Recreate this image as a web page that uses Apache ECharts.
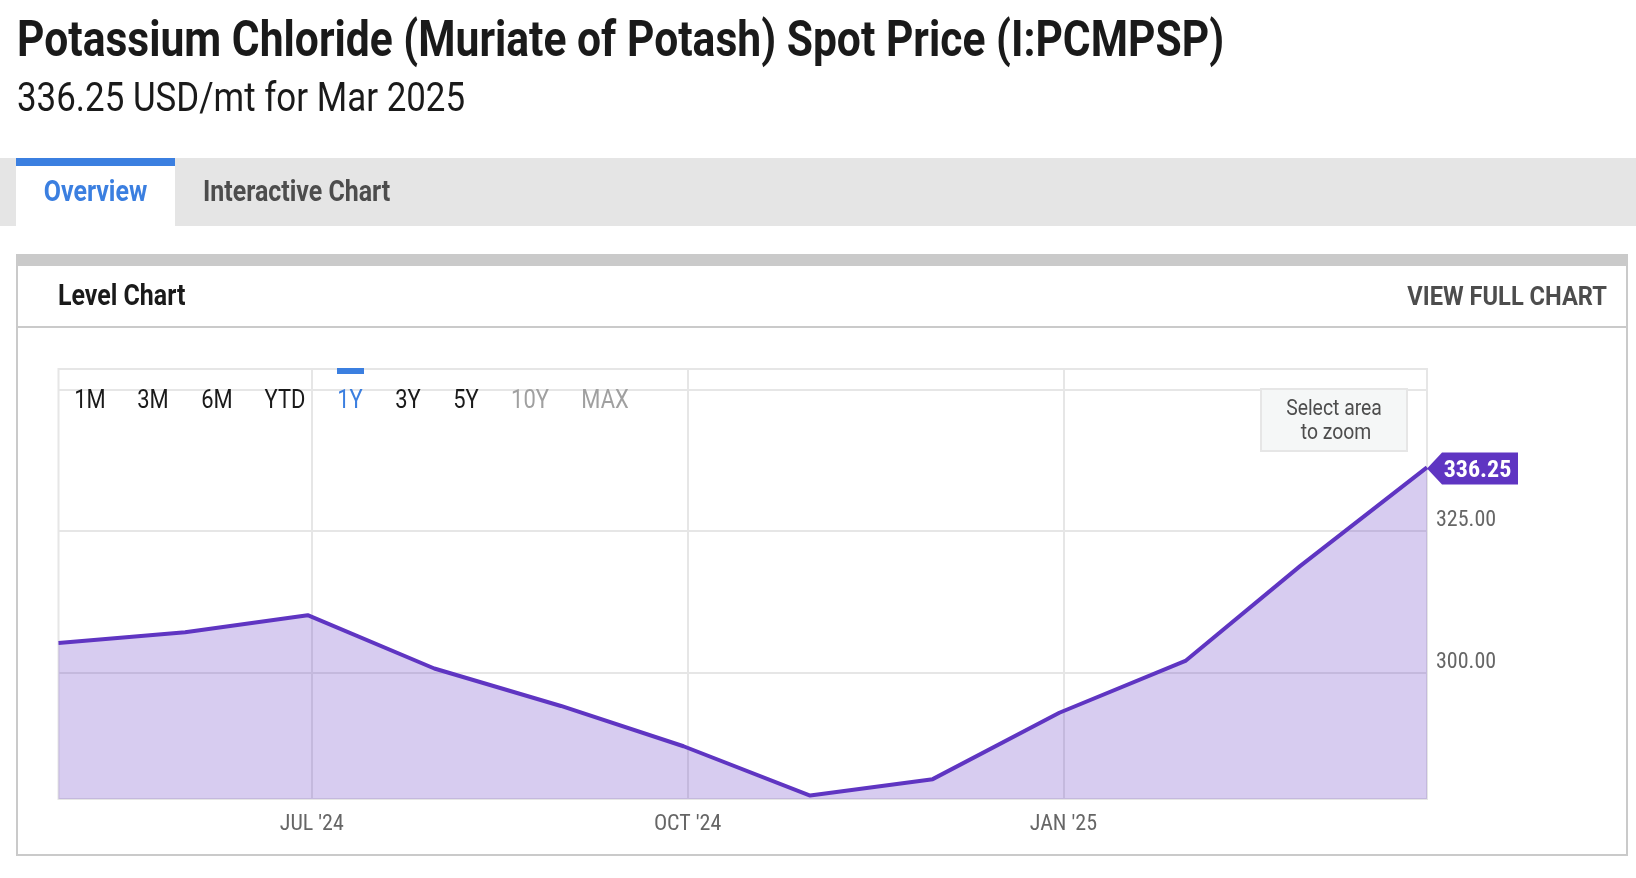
<!DOCTYPE html>
<html>
<head>
<meta charset="utf-8">
<title>Potassium Chloride (Muriate of Potash) Spot Price</title>
<style>
  html, body { margin: 0; padding: 0; background: #fff; }
  #main { width: 1636px; height: 878px; }
</style>
<script src="https://cdn.jsdelivr.net/npm/echarts@6/dist/echarts.min.js"></script>
</head>
<body>
<div id="main"></div>
<script>
// month end dates and level
var dates = ['2024-04-30', '2024-05-31', '2024-06-30', '2024-07-31', '2024-08-31', '2024-09-30',
  '2024-10-31', '2024-11-30', '2024-12-31', '2025-01-31', '2025-02-28', '2025-03-31'];
var values = [305.3, 307.2, 310.2, 300.8, 294.2, 287.1, 278.4, 281.3, 293.0, 302.2, 318.9, 336.25];

var xTickDates = ['2024-07-01', '2024-10-01', '2025-01-01'];
var xTickLabels = ["JUL '24", "OCT '24", "JAN '25"];
var yGridValues = [300, 325, 350];
var yLabelValues = [300, 325];

var rangeLabels = ['1M', '3M', '6M', 'YTD', '1Y', '3Y', '5Y', '10Y', 'MAX'];
var rangeCenters = [90, 153, 217, 285, 350, 408, 466, 530, 605];
var rangeColors = ['#1a1a1a', '#1a1a1a', '#1a1a1a', '#1a1a1a', '#3b7fe0', '#1a1a1a', '#1a1a1a', '#a0a0a0', '#a0a0a0'];

var PURPLE = '#5f35c2';
var FONT = 'Roboto';
var NARROW = '"Roboto Condensed", "Liberation Sans Narrow", Roboto';

function ts(d) { return Date.parse(d); }
var xTicks = xTickDates.map(ts);

// scaleX squeezes Roboto to look like the condensed face of the original
function label(text, x, y, size, color, weight, align, sx) {
  return {
    type: 'text', x: x, y: y, scaleX: sx || 0.86, silent: true, z: -1,
    style: { text: text, fontFamily: FONT, fontSize: size, fontWeight: weight || 'normal',
      fill: color, textAlign: align || 'left', textVerticalAlign: 'middle' }
  };
}
function box(x, y, w, h, fill, stroke, lw) {
  return {
    type: 'rect', silent: true, z: -1, shape: { x: x, y: y, width: w, height: h },
    style: { fill: fill, stroke: stroke || null, lineWidth: lw || 0 }
  };
}
function onTop(el) { el.z = 5; return el; }

var chrome = [
  label('Potassium Chloride (Muriate of Potash) Spot Price (I:PCMPSP)', 17, 43, 50, '#1a1a1a', 'bold', 'left', 0.852),
  label('336.25 USD/mt for Mar 2025', 17, 101, 41, '#1a1a1a', 'normal', 'left', 0.851),
  box(0, 158, 1636, 68, '#e5e5e5'),
  box(16, 158, 159, 68, '#ffffff'),
  box(16, 158, 159, 8, '#3b7fe0'),
  label('Overview', 95.5, 194, 29, '#3b7fe0', 'bold', 'center'),
  label('Interactive Chart', 203, 194, 29, '#4d4d4d', 'bold'),
  box(17, 255, 1610, 600, '#ffffff', '#cacaca', 2),
  box(16, 254, 1612, 12, '#cacaca'),
  box(17, 326, 1610, 2, '#cacaca'),
  label('Level Chart', 58, 298, 29, '#1a1a1a', 'bold'),
  label('VIEW FULL CHART', 1607, 298, 26, '#4d4d4d', 'bold', 'right', 0.91),
  onTop(box(337, 368, 27, 6, '#3b7fe0'))
];
rangeLabels.forEach(function (text, i) {
  chrome.push(onTop(label(text, rangeCenters[i], 402, 25.5, rangeColors[i], 'normal', 'center')));
});
chrome.push(onTop(box(1261, 389, 146, 62, '#f5f7f7', '#e6e6e6', 2)));
chrome.push(onTop(label('Select area', 1334, 409.5, 22.5, '#4d4d4d', 'normal', 'center')));
chrome.push(onTop(label('to zoom', 1336, 433.5, 22.5, '#4d4d4d', 'normal', 'center')));

var myChart = echarts.init(document.getElementById('main'), null, { renderer: 'canvas' });
myChart.setOption({
  animation: false,
  backgroundColor: '#ffffff',
  graphic: { elements: chrome },
  grid: {
    show: true, left: 58.5, top: 369, width: 1368.5, height: 430,
    borderColor: '#e6e6e6', borderWidth: 2, backgroundColor: 'transparent'
  },
  xAxis: {
    type: 'value',
    min: ts(dates[0]),
    max: ts(dates[dates.length - 1]),
    axisLine: { show: false },
    axisTick: { show: false, customValues: xTicks },
    splitLine: { show: true, lineStyle: { color: '#e6e6e6', width: 2 } },
    axisLabel: {
      customValues: xTicks,
      fontFamily: NARROW, fontSize: 22, color: '#666666', margin: 14,
      formatter: function (val) {
        var i = xTicks.indexOf(val);
        return i >= 0 ? xTickLabels[i] : '';
      }
    }
  },
  yAxis: {
    type: 'value',
    position: 'right',
    min: 277.8,
    max: 353.6,
    axisLine: { show: false },
    axisTick: { show: false, customValues: yGridValues },
    splitLine: { show: true, lineStyle: { color: '#e6e6e6', width: 2 } },
    axisLabel: {
      customValues: yLabelValues,
      fontFamily: NARROW, fontSize: 22, color: '#666666', margin: 9,
      verticalAlign: 'bottom', lineHeight: 21,
      formatter: function (val) { return val.toFixed(2); }
    }
  },
  series: [{
    type: 'line',
    data: dates.map(function (d, i) { return [ts(d), values[i]]; }),
    symbol: 'none',
    smooth: false,
    clip: false,
    lineStyle: { color: PURPLE, width: 4 },
    areaStyle: { color: PURPLE, opacity: 0.25 },
    markPoint: {
      silent: true,
      data: [{ coord: [ts(dates[dates.length - 1]), values[values.length - 1]] }],
      // flag shaped tag: point on the last value, box to the right of it
      symbol: 'path://M0 16 L15 0 L91 0 L91 32 L15 32 Z',
      symbolSize: [91, 32],
      symbolOffset: [45.5, 1],
      itemStyle: { color: PURPLE },
      label: {
        show: true, position: 'inside', offset: [5, 3],
        formatter: function () { return values[values.length - 1].toFixed(2); },
        fontFamily: NARROW, fontWeight: 'bold', fontSize: 24, color: '#ffffff'
      }
    }
  }]
});
</script>
</body>
</html>
